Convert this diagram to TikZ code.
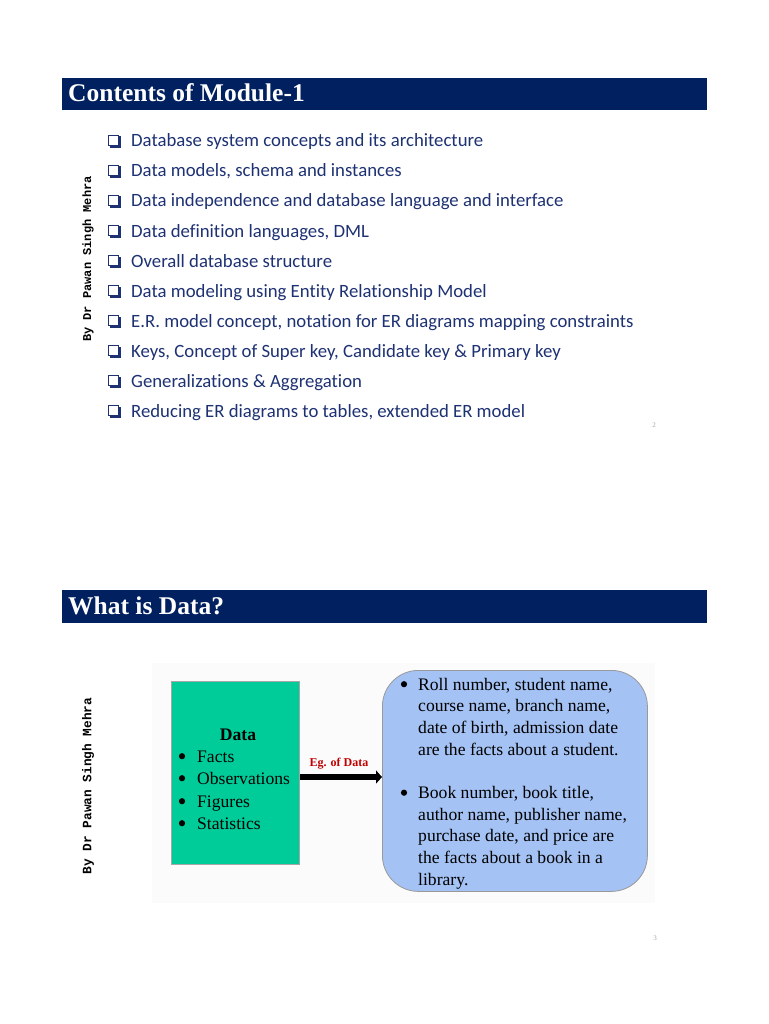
\documentclass[tikz,border=0pt]{standalone}
\usepackage{fontspec}
\setmainfont{Liberation Serif}
\newfontfamily\carlitofont[Ligatures={NoCommon,NoContextual}]{Carlito}
\newfontfamily\monofont{Liberation Mono}
\usetikzlibrary{arrows.meta}
\definecolor{navybar}{RGB}{0,32,96}
\definecolor{itemblue}{RGB}{30,50,115}
\definecolor{greenfill}{RGB}{0,204,153}
\definecolor{bluefill}{RGB}{164,194,244}
\definecolor{egred}{RGB}{192,0,0}
\tikzset{
  titlebar/.style={fill=navybar},
  titletext/.style={anchor=base west, inner sep=0, text=white, font=\bfseries\fontsize{25.5}{25.5}\selectfont},
  itemtext/.style={anchor=base west, inner sep=0, text=itemblue, font=\carlitofont\fontsize{18.75}{18.75}\selectfont},
  chkbox/.style={draw=itemblue, line width=0.9pt},
  sidetext/.style={rotate=90, inner sep=0, font=\monofont\bfseries\fontsize{12}{12}\selectfont},
  pagenum/.style={inner sep=0, text=gray!70, font=\fontsize{7}{7}\selectfont},
  boxtext/.style={anchor=base west, inner sep=0, font=\fontsize{17.6}{17.6}\selectfont},
  dot/.style={fill=black},
  greenbox/.style={draw=gray!70, fill=greenfill, line width=0.8pt, minimum width=128, minimum height=183, anchor=north west, inner sep=0},
  bluebox/.style={draw=gray!80, fill=bluefill, line width=0.8pt, rounded corners=36pt, minimum width=265, minimum height=221, anchor=north west, inner sep=0},
  bigarrow/.style={line width=5.5pt, -{Triangle[length=6pt,width=13pt]}},
  eglabel/.style={anchor=base, inner sep=0, text=egred, font=\bfseries\fontsize{12}{12}\selectfont}
}
\begin{document}
\begin{tikzpicture}[x=1pt,y=-1pt]
\useasboundingbox (0,0) rectangle (768,1024);
\fill[white] (0,0) rectangle (768,1024);

% ---------- Slide 1 ----------
\fill[titlebar] (62,78) rectangle (707,110);
\node[titletext] (title1) at (68,102) {Contents of Module-1};

\foreach \i/\t in {1/{Database system concepts and its architecture},
  2/{Data models, schema and instances},
  3/{Data independence and database language and interface},
  4/{Data definition languages, DML},
  5/{Overall database structure},
  6/{Data modeling using Entity Relationship Model},
  7/{E.R. model concept, notation for ER diagrams mapping constraints},
  8/{Keys, Concept of Super key, Candidate key \& Primary key},
  9/{Generalizations \& Aggregation},
  10/{Reducing ER diagrams to tables, extended ER model}}{
  \pgfmathsetmacro\yy{141+30*(\i-1)}
  \draw[chkbox] (108,\yy-6) rectangle (118.5,\yy+4.5);
  \fill[itemblue] (118.5,\yy-4.5) rectangle (121,\yy+7);
  \fill[itemblue] (109.5,\yy+4.5) rectangle (121,\yy+7);
  \node[itemtext] (item\i) at (131,\yy+6) {\t};
}

\node[sidetext] (side1) at (88,259) {By Dr Pawan Singh Mehra};
\node[pagenum] (pg2) at (654,425) {2};

% ---------- Slide 2 ----------
\fill[titlebar] (62,590) rectangle (707,623);
\node[titletext] (title2) at (68,614) {What is Data?};

\node[sidetext, font=\monofont\bfseries\fontsize{12.8}{12.8}\selectfont] (side2) at (88,786) {By Dr Pawan Singh Mehra};
\node[pagenum] (pg3) at (655,938) {3};

\fill[gray!3] (152,663) rectangle (655,903);

\node[greenbox] (green) at (171,681) {};
\node[anchor=base, inner sep=0, font=\bfseries\fontsize{17.6}{17.6}\selectfont] (datahead) at (238,740) {Data};
\foreach \i/\t/\b in {1/Facts/762, 2/Observations/784, 3/Figures/807, 4/Statistics/829}{
  \fill[dot] (182,\b-5.8) circle (3.1);
  \node[boxtext] (g\i) at (197,\b) {\t};
}

\node[bluebox] (blue) at (382,670) {};
\foreach \i/\t in {0/{Roll number, student name,},
  1/{course name, branch name,},
  2/{date of birth, admission date},
  3/{are the facts about a student.},
  5/{Book number, book title,},
  6/{author name, publisher name,},
  7/{purchase date, and price are},
  8/{the facts about a book in a},
  9/{library.}}{
  \node[boxtext] (b\i) at (418,690+21.7*\i) {\t};
}
\fill[dot] (404,690-5.8) circle (3.1);
\fill[dot] (404,690+21.7*5-5.8) circle (3.1);

\coordinate (arrowy) at (0,777);
\draw[bigarrow] (green.east |- arrowy) -- (blue.west |- arrowy);
\node[eglabel] (eg) at (339,766) {Eg. of Data};
\end{tikzpicture}
\end{document}
